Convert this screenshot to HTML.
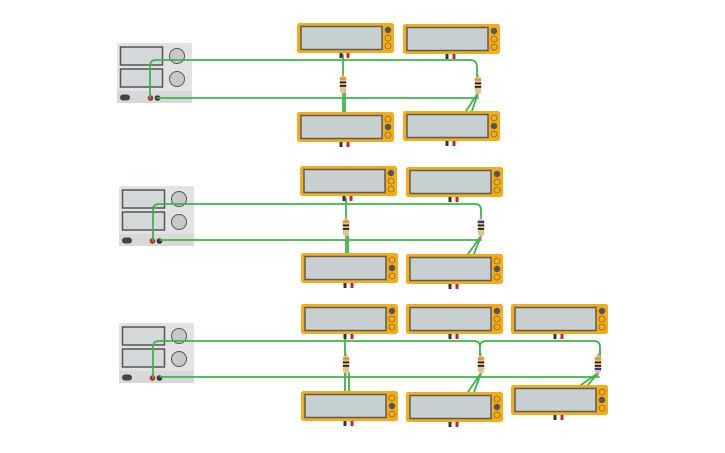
<!DOCTYPE html>
<html><head><style>html,body{margin:0;padding:0;background:#fff}svg{display:block}</style></head><body>
<svg width="725" height="453" viewBox="0 0 725 453" xmlns="http://www.w3.org/2000/svg">
<defs>
<g id="mt">
<rect x="0" y="0" width="97" height="30" rx="2.5" fill="#f3ad1b"/>
<rect x="4" y="3.5" width="81" height="23" fill="#c7cfd1" stroke="#5b5b5b" stroke-width="1.5"/>
<rect x="42.5" y="30" width="3" height="5" fill="#333"/>
<rect x="49.5" y="30" width="3" height="5" fill="#c0282a"/>
</g>
<g id="btA"><circle cx="91" cy="7" r="3.2" fill="#555"/><circle cx="91" cy="15" r="3" fill="none" stroke="#8a6a10" stroke-width="0.8"/><circle cx="91" cy="23" r="3" fill="none" stroke="#8a6a10" stroke-width="0.8"/></g>
<g id="btV"><circle cx="91" cy="7" r="3" fill="none" stroke="#8a6a10" stroke-width="0.8"/><circle cx="91" cy="15" r="3.2" fill="#555"/><circle cx="91" cy="23" r="3" fill="none" stroke="#8a6a10" stroke-width="0.8"/></g>
<g id="ps">
<rect x="0" y="0" width="75" height="60" rx="2" fill="#e2e2e2"/>
<rect x="0" y="48" width="75" height="12" fill="#d8d8d8"/>
<rect x="3.5" y="4" width="42" height="18" fill="#d3d8da" stroke="#555" stroke-width="1.5"/>
<rect x="3.5" y="26" width="42" height="18" fill="#d3d8da" stroke="#555" stroke-width="1.5"/>
<circle cx="60" cy="13" r="7.5" fill="#c8c8c8" stroke="#555" stroke-width="1"/>
<circle cx="60" cy="36" r="7.5" fill="#c8c8c8" stroke="#555" stroke-width="1"/>
<rect x="3" y="51.5" width="10" height="6" rx="3" fill="#444"/>
<circle cx="33.5" cy="55" r="2.8" fill="#c0282a"/>
<circle cx="40.5" cy="55" r="2.8" fill="#333"/>
</g>
<g id="rs">
<line x1="0" y1="-3" x2="0" y2="21" stroke="#999" stroke-width="1.2"/>
<rect x="-3.2" y="0" width="6.4" height="17" rx="2.5" fill="#e2c48a"/>
<rect x="-3.2" y="1.5" width="6.4" height="2.2" fill="#f08a20"/>
<rect x="-3.2" y="5.5" width="6.4" height="1.8" fill="#222"/>
<rect x="-3.2" y="9" width="6.4" height="1.8" fill="#222"/>
</g>
</defs>
<use href="#ps" x="117" y="43"/>
<use href="#ps" x="119" y="186"/>
<use href="#ps" x="119" y="323"/>
<g fill="none" stroke="#3cb54a" stroke-width="1.8" stroke-linecap="round">
<path d="M150 98 V66 Q150 60 156 60 H470 Q477 60 477 67 V78"/>
<path d="M157 98 H478"/>
<path d="M343 55 V76 M343 93 V112 M345 93 V112"/>
<path d="M478 93 L466 111 M478 93 L472 111"/>
<path d="M153 241 V210 Q153 204 159 204 H475 Q481 204 481 210 V219"/>
<path d="M160 240 H481"/>
<path d="M346 198 V219 M346 236 V253 M348 236 V253"/>
<path d="M481 236 L468 254 M481 236 L474 254"/>
<path d="M153 378 V347 Q153 341 159 341 H474 Q480 341 480 347 Q480 341 486 341 H594 Q600 341 600 347 V356"/>
<path d="M160 377 H599"/>
<path d="M345 336 V356 M345 373 V391 M349 373 V391"/>
<path d="M480 347 V356 M481 373 L468 392 M481 373 L474 392"/>
<path d="M598 373 L581 385 M598 373 L588 385"/>
</g>
<use href="#rs" x="343" y="76"/>
<use href="#rs" x="478" y="77"/>
<use href="#rs" x="346" y="219"/>
<use href="#rs" x="481" y="219"/>
<use href="#rs" x="346" y="356"/>
<use href="#rs" x="481" y="356"/>
<use href="#rs" x="598" y="356"/>
<rect x="477.8" y="221" width="6.4" height="2" fill="#2233cc"/>
<rect x="594.8" y="368" width="6.4" height="2" fill="#2233cc"/>
<use href="#mt" x="297" y="23"/><use href="#btA" x="297" y="23"/>
<use href="#mt" x="403" y="24"/><use href="#btA" x="403" y="24"/>
<use href="#mt" x="297" y="112"/><use href="#btV" x="297" y="112"/>
<use href="#mt" x="403" y="111"/><use href="#btV" x="403" y="111"/>
<use href="#mt" x="300" y="166"/><use href="#btA" x="300" y="166"/>
<use href="#mt" x="406" y="167"/><use href="#btA" x="406" y="167"/>
<use href="#mt" x="301" y="253"/><use href="#btV" x="301" y="253"/>
<use href="#mt" x="406" y="254"/><use href="#btV" x="406" y="254"/>
<use href="#mt" x="301" y="304"/><use href="#btA" x="301" y="304"/>
<use href="#mt" x="406" y="304"/><use href="#btA" x="406" y="304"/>
<use href="#mt" x="511" y="304"/><use href="#btA" x="511" y="304"/>
<use href="#mt" x="301" y="391"/><use href="#btV" x="301" y="391"/>
<use href="#mt" x="406" y="392"/><use href="#btV" x="406" y="392"/>
<use href="#mt" x="511" y="385"/><use href="#btV" x="511" y="385"/>
</svg>
</body></html>
